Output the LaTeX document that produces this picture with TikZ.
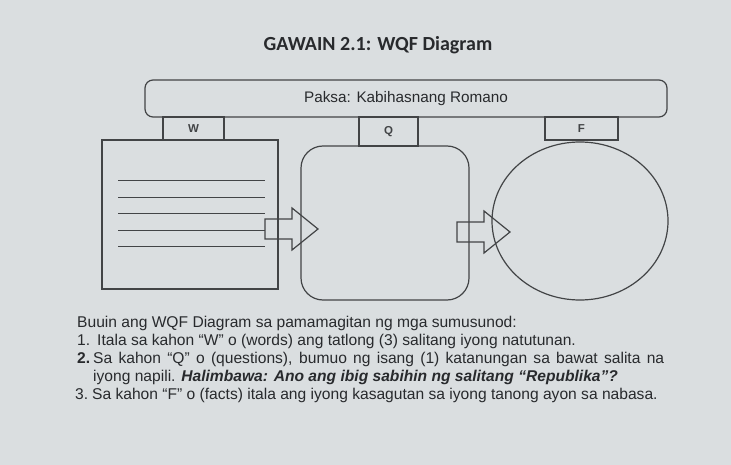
\documentclass[tikz,border=0pt]{standalone}
\usepackage{fontspec}
\setmainfont{Liberation Sans}
\newfontfamily\titlefont{Carlito}
\usetikzlibrary{positioning,shapes.geometric}
\definecolor{paper}{RGB}{218,222,224}
\definecolor{ink}{RGB}{66,68,70}
\definecolor{print}{RGB}{40,42,45}
\begin{document}
\begin{tikzpicture}[x=1pt,y=-1pt,
    outline/.style={draw=ink,line width=1.2pt},
    tabbox/.style={outline,minimum height=23pt,inner sep=0pt,
      font=\bfseries\fontsize{11.5}{11.5}\selectfont,text=ink},
    ruled/.style={draw=ink,line width=0.8pt},
    textline/.style={anchor=base west,inner sep=0pt,text=print,
      font=\fontsize{15.6}{18}\selectfont}]
  \fill[paper] (0,0) rectangle (731,465);
  \useasboundingbox (0,0) rectangle (731,465);

  % title and topic
  \node[text=print,font=\titlefont\bfseries\fontsize{20}{20}\selectfont]
    (title) at (378,45) {GAWAIN 2.1: WQF Diagram};
  \node[outline,rounded corners=8pt,minimum width=522pt,minimum height=37pt,
    text=print,font=\fontsize{15.3}{15.3}\selectfont]
    (paksa) at (406,98.5) {Paksa: Kabihasnang Romano};

  % W box
  \node[tabbox,minimum width=61pt] (wtab) at (193.5,128.5) {W};
  \node[outline,minimum width=176pt,minimum height=149pt] (wbox) at (190,214.5) {};
  \foreach \y in {180,197,213,230,246}
    \draw[ruled] (118,\y) -- (265,\y);

  % Q box
  \node[tabbox,minimum width=59pt,minimum height=29pt] (qtab) at (388.5,131.5) {Q};
  \node[outline,rounded corners=22pt,minimum width=168pt,minimum height=154pt]
    (qbox) at (385,223) {};

  % F circle
  \node[tabbox,minimum width=73pt] (ftab) at (581.5,128.5) {F};
  \node[outline,ellipse,minimum width=176pt,minimum height=158pt,inner sep=0pt]
    (fcircle) at (580,221) {};

  % block arrows
  \foreach \x/\y in {265/229, 457/232}
    \draw[outline] (\x,\y) ++(0,-10) -- ++(27,0) -- ++(0,-11) -- ++(26,21)
      -- ++(-26,21) -- ++(0,-11) -- ++(-27,0) -- cycle;

  % instructions
  \node[textline] (intro) at (77,327) {Buuin ang WQF Diagram sa pamamagitan ng mga sumusunod:};
  \node[textline] (num1) at (77,345) {1.};
  \node[textline] (item1) at (97,345) {Itala sa kahon “W” o (words) ang tatlong (3) salitang iyong natutunan.};
  \node[textline] (num2) at (77,363) {\bfseries 2.};
  \node[textline] (item2) at (93,363) {\hbox to 571pt{Sa kahon “Q” o (questions), bumuo ng isang (1) katanungan sa bawat salita na}};
  \node[textline] (item2b) at (93,381) {iyong napili. \textbf{\textit{Halimbawa: Ano ang ibig sabihin ng salitang “Republika”?}}};
  \node[textline] (num3) at (75,399) {3.};
  \node[textline] (item3) at (92,399) {Sa kahon “F” o (facts) itala ang iyong kasagutan sa iyong tanong ayon sa nabasa.};
\end{tikzpicture}
\end{document}
